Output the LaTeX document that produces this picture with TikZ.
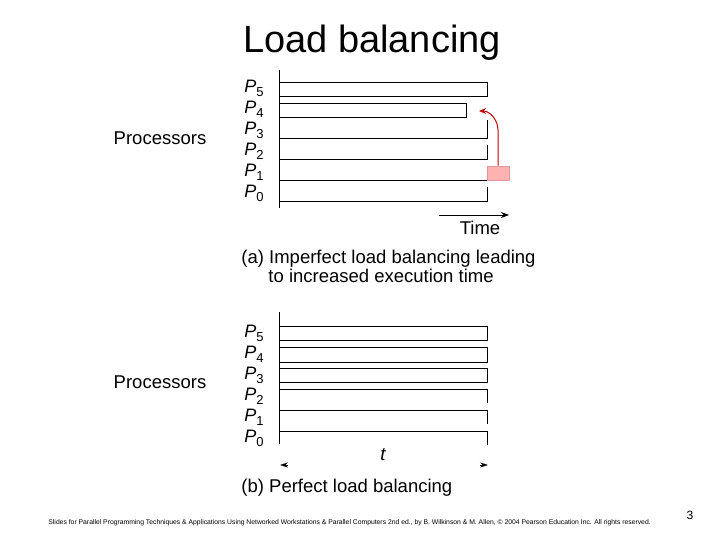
\documentclass[tikz,border=0pt]{standalone}
\usepackage{fontspec}
\setmainfont{Liberation Sans}
\usetikzlibrary{arrows.meta}
\newcommand{\pp}[1]{\textit{P}\raisebox{-4pt}{\fontsize{13}{13}\selectfont #1}}
\begin{document}
\begin{tikzpicture}[x=1pt,y=-1pt,line width=0.9pt,
  lbl/.style={font=\fontsize{18.5}{18.5}\selectfont,inner sep=0pt},
  pl/.style={font=\fontsize{18}{18}\selectfont,inner sep=0pt},
  bar/.style={draw=black,line width=0.9pt}]
\useasboundingbox (0,0) rectangle (720,540);
\node[font=\fontsize{38}{38}\selectfont,inner sep=0] (title) at (372,43) {Load balancing};
% ---- top
\node[lbl] (procA) at (160,138) {Processors};
\coordinate (a0) at (279,70); \coordinate (a1) at (279,208);
\draw (a0) -- (a1);
\foreach \n/\y in {5/88,4/109,3/130,2/151,1/172,0/193}
  \node[pl] (pa\n) at (254,\y) {\pp{\n}};
\draw (279,82.5) -- (487,82.5) -- (487,96) -- (279,96);
\draw (279,103) -- (466,103) -- (466,117) -- (279,117);
\draw (279,138) -- (487,138) -- (487,120);
\draw (279,159) -- (487,159) -- (487,145);
\draw (279,180) -- (487,180);
\draw (279,201) -- (487,201) -- (487,187);
\node[draw=red!70!black!40,fill=red!30,minimum width=22pt,minimum height=14pt,inner sep=0,line width=0.6pt] (extra) at (498,173) {};
\draw[red!75!black,line width=1pt,-{Stealth[length=7pt,width=6pt]}] (extra.north) -- (498,130) to[out=90,in=0] (479,111);
\coordinate (t0) at (439,215); \coordinate (t1) at (509,215);
\draw[-{Stealth[length=8pt,width=6pt]}] (t0) -- (t1);
\node[lbl] (time) at (480,228) {Time};
\node[lbl,align=left,anchor=north west] (capa) at (241,250) {(a) Imperfect load balancing leading\\\hspace*{27pt}to increased execution time};
% ---- bottom
\node[lbl] (procB) at (160,382) {Processors};
\coordinate (b0) at (279,312); \coordinate (b1) at (279,444);
\draw (b0) -- (b1);
\foreach \n/\y in {5/333,4/354,3/375,2/396,1/417,0/438}
  \node[pl] (pb\n) at (254,\y) {\pp{\n}};
\draw (279,326) -- (487,326) -- (487,340) -- (279,340);
\draw (279,347) -- (487,347) -- (487,362) -- (279,362);
\draw (279,368) -- (487,368) -- (487,382) -- (279,382);
\draw (279,389) -- (487,389) -- (487,403);
\draw (279,410) -- (487,410) -- (487,424);
\draw (279,431) -- (487,431) -- (487,445);
\node[lbl] (tt) at (383,455) {\itshape t};
\coordinate (l0) at (288,465); \coordinate (l1) at (280,465);
\coordinate (r0) at (480,465); \coordinate (r1) at (488,465);
\draw[line width=0.5pt,-{Stealth[length=8pt,width=5pt]}] (l0) -- (l1);
\draw[line width=0.5pt,-{Stealth[length=8pt,width=5pt]}] (r0) -- (r1);
\node[lbl,anchor=west] (capb) at (241,488) {(b) Perfect load balancing};
% ---- footer
\node[font=\fontsize{12}{12}\selectfont,inner sep=0] (pg) at (690,515) {3};
\node[font=\fontsize{6.8}{6.8}\selectfont,anchor=west,inner sep=0] (foot) at (48,523) {Slides for Parallel Programming Techniques \& Applications Using Networked Workstations \& Parallel Computers 2nd ed., by B. Wilkinson \& M. Allen, \copyright\ 2004 Pearson Education Inc. All rights reserved.};
\end{tikzpicture}
\end{document}
